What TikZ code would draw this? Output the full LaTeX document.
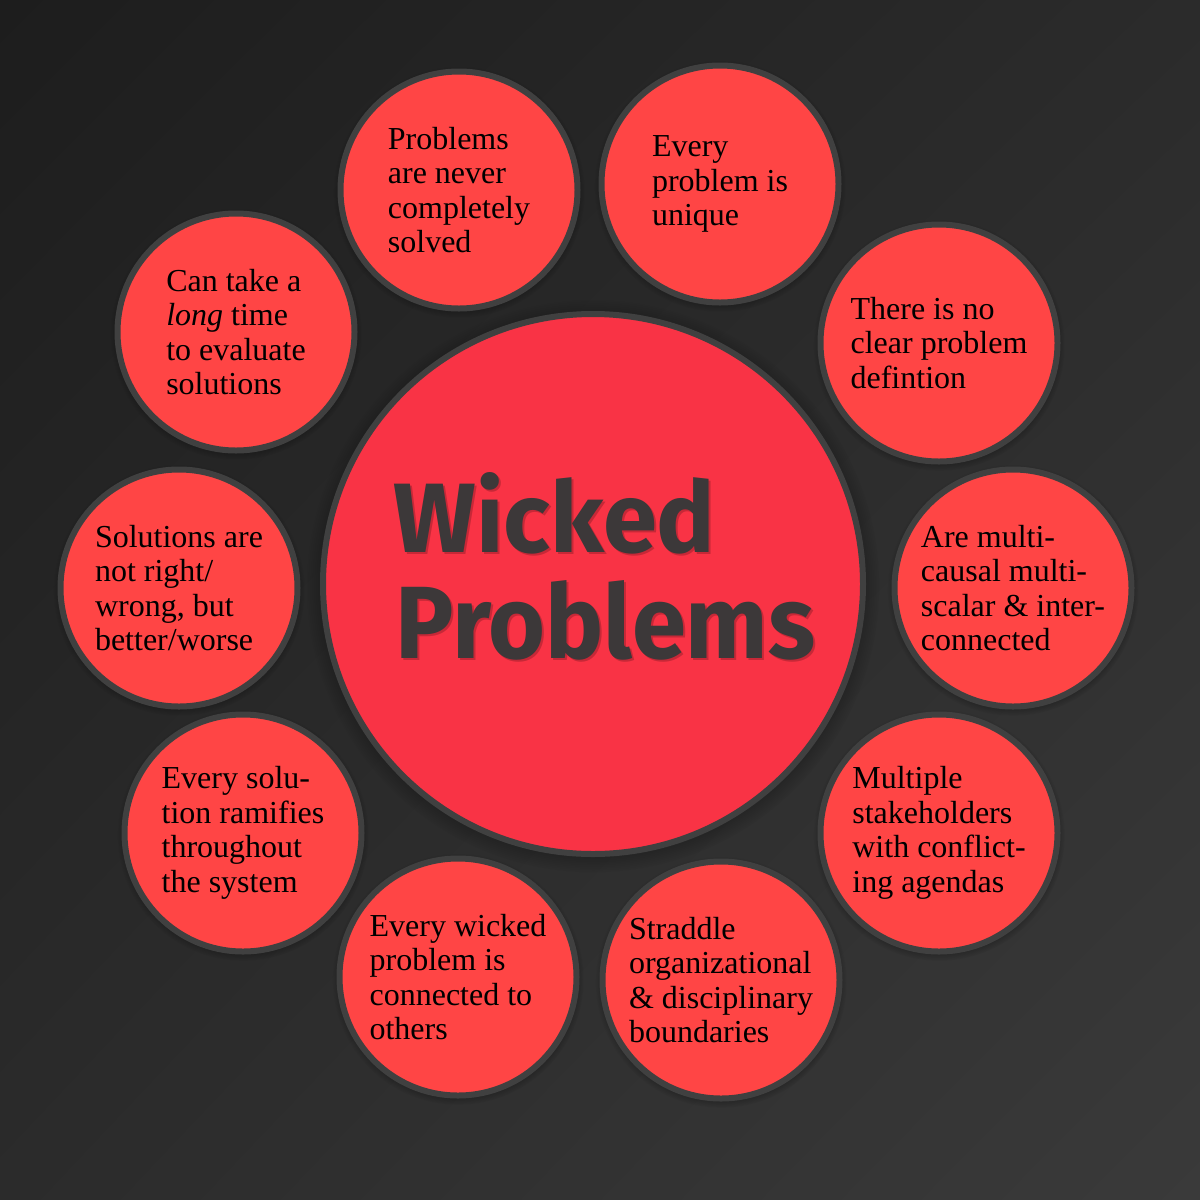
\documentclass[tikz,border=0pt]{standalone}
\usepackage{graphicx}
\usepackage{fontspec}
\setmainfont{Liberation Serif}
\newfontfamily\titlefont{Fira Sans}
\usepackage{tikz}
\usetikzlibrary{shadows,shadings}

\definecolor{bgdark}{HTML}{1D1D1D}
\definecolor{bgmid}{HTML}{2B2B2B}
\definecolor{bglight}{HTML}{3A3A3A}
\definecolor{bubblered}{HTML}{FF4545}
\definecolor{hubred}{HTML}{F93345}
\definecolor{ringgray}{HTML}{404040}
\definecolor{titlegray}{HTML}{3C3839}

\begin{document}
\begin{tikzpicture}[x=0.5pt,y=-0.5pt,
    bubble/.style={circle,fill=bubblered,draw=ringgray,line width=3pt,
      minimum size=118.5pt,inner sep=0pt,align=left,
      font=\fontsize{16}{17.25}\selectfont,
      circular drop shadow={shadow xshift=0pt,shadow yshift=-1pt,shadow scale=1.06,fill=black,opacity=.55}},
    hub/.style={bubble,fill=hubred,minimum size=270pt},
    headline/.style={anchor=base west,text=titlegray,font=\titlefont\bfseries,inner sep=0pt}]

          % background
          \shade[upper left=bgdark,upper right=bgmid,lower left=bgmid,lower right=bglight]
            (0,0) rectangle (1200,1200);
          \useasboundingbox (0,0) rectangle (1200,1200);

          \node[hub] (wp) at (593,584) {};

          \node[headline,text=black,opacity=.2] (wickedshadow) at (395,554) {\resizebox{161pt}{40pt}{Wicked}};
          \node[headline] (wicked) at (393,552) {\resizebox{161pt}{40pt}{Wicked}};
          \node[headline,text=black,opacity=.2] (problemsshadow) at (397,660) {\resizebox{210pt}{39pt}{Problems}};
          \node[headline] (problems) at (395,658) {\resizebox{210pt}{39pt}{Problems}};

          \node[bubble] (p0) at (1013,588) {Are multi-\\causal multi-\\scalar \& inter-\\connected};
          \node[bubble] (p1) at (939,343) {There is no\\clear problem\\defintion};
          \node[bubble] (p2) at (720,184) {Every\\problem is\\unique};
          \node[bubble] (p3) at (459,190) {Problems\\are never\\completely\\solved};
          \node[bubble] (p4) at (236,332) {Can take a\\\textit{long} time\\to evaluate\\solutions};
          \node[bubble] (p5) at (179,588) {Solutions are\\not right/\\wrong, but\\better/worse};
          \node[bubble] (p6) at (243,833) {Every solu-\\tion ramifies\\throughout\\the system};
          \node[bubble] (p7) at (458,977) {Every wicked\\problem is\\connected to\\others};
          \node[bubble] (p8) at (721,980) {Straddle\\organizational\\\& disciplinary\\boundaries};
          \node[bubble] (p9) at (939,833) {Multiple\\stakeholders\\with conflict-\\ing agendas};
        \end{tikzpicture}
\end{document}
